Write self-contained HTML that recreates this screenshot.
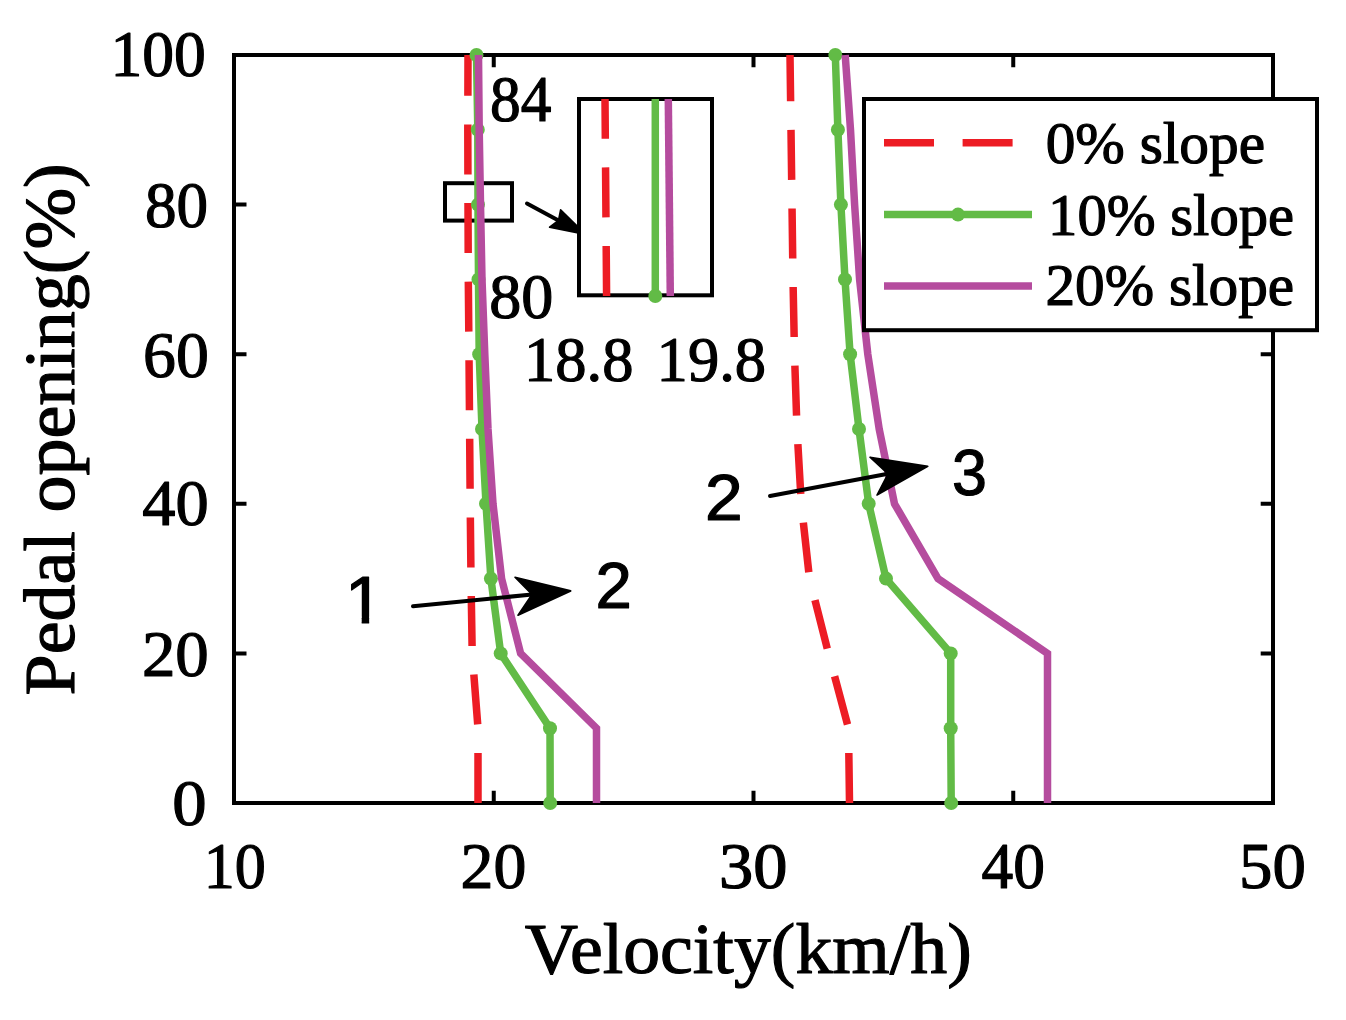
<!DOCTYPE html>
<html><head><meta charset="utf-8"><title>Pedal opening vs velocity</title>
<style>html,body{margin:0;padding:0;background:#fff;}svg{display:block;}</style>
</head><body>
<svg width="1346" height="1020" viewBox="0 0 1346 1020">
<rect x="0" y="0" width="1346" height="1020" fill="#fff"/>
<rect x="445" y="183.2" width="67" height="37.4" fill="none" stroke="#000" stroke-width="4"/>
<rect x="234" y="55" width="1039" height="748" fill="none" stroke="#000" stroke-width="4"/>
<path d="M493.75 803V790.7M493.75 55V67.3M753.50 803V790.7M753.50 55V67.3M1013.25 803V790.7M1013.25 55V67.3M234 653.40H246.5M1273 653.40H1260.7M234 503.80H246.5M1273 503.80H1260.7M234 354.20H246.5M1273 354.20H1260.7M234 204.60H246.5M1273 204.60H1260.7" stroke="#000" stroke-width="4" fill="none"/>
<g fill="none" stroke-width="7.5" stroke-linejoin="miter">
<polyline points="478.0,803.0 478.0,728.2 472.2,653.4 471.0,578.6 470.2,503.8 469.6,429.0 469.0,354.2 468.3,279.4 468.0,204.6 467.8,129.8 468.0,55.0" stroke="#ED1C24" stroke-dasharray="50 28.6"/>
<polyline points="849.5,803.0 848.5,728.2 828.5,653.4 809.5,578.6 801.3,503.8 797.0,429.0 794.5,354.2 793.0,279.4 792.0,204.6 791.0,129.8 790.0,55.0" stroke="#ED1C24" stroke-dasharray="50 28.6"/>
<polyline points="550.2,803.0 550.0,728.2 500.7,653.4 490.9,578.6 486.0,503.8 482.0,429.0 479.2,354.2 478.5,279.4 478.0,204.6 477.8,129.8 476.5,55.0" stroke="#62BB46"/>
<polyline points="951.2,803.0 950.7,728.2 950.7,653.4 886.0,578.6 868.7,503.8 859.0,429.0 850.1,354.2 845.0,279.4 840.9,204.6 837.9,129.8 835.3,55.0" stroke="#62BB46"/>
</g>
<g fill="#62BB46"><circle cx="550.2" cy="803.0" r="7"/><circle cx="550.0" cy="728.2" r="7"/><circle cx="500.7" cy="653.4" r="7"/><circle cx="490.9" cy="578.6" r="7"/><circle cx="486.0" cy="503.8" r="7"/><circle cx="482.0" cy="429.0" r="7"/><circle cx="479.2" cy="354.2" r="7"/><circle cx="478.5" cy="279.4" r="7"/><circle cx="478.0" cy="204.6" r="7"/><circle cx="477.8" cy="129.8" r="7"/><circle cx="476.5" cy="55.0" r="7"/><circle cx="951.2" cy="803.0" r="7"/><circle cx="950.7" cy="728.2" r="7"/><circle cx="950.7" cy="653.4" r="7"/><circle cx="886.0" cy="578.6" r="7"/><circle cx="868.7" cy="503.8" r="7"/><circle cx="859.0" cy="429.0" r="7"/><circle cx="850.1" cy="354.2" r="7"/><circle cx="845.0" cy="279.4" r="7"/><circle cx="840.9" cy="204.6" r="7"/><circle cx="837.9" cy="129.8" r="7"/><circle cx="835.3" cy="55.0" r="7"/></g>
<g fill="none" stroke-width="7.5">
<polyline points="596.5,803.0 596.5,728.2 520.6,653.4 501.6,578.6 493.0,503.8 488.0,429.0 484.8,354.2 482.0,279.4 480.5,204.6 479.2,129.8 478.5,55.0" stroke="#B54C9E"/>
<polyline points="1047.5,803.0 1047.5,728.2 1047.5,653.4 938.0,578.6 894.5,503.8 879.2,429.0 867.8,354.2 859.6,279.4 854.6,204.6 850.5,129.8 845.2,55.0" stroke="#B54C9E"/>
</g>
<line x1="527" y1="203.5" x2="558.5" y2="220.5" stroke="#000" stroke-width="4" stroke-linecap="round"/><polygon points="585.6,234.4 560.6,209.8 558.5,220.5 549.6,227.2" fill="#000" stroke="#000" stroke-width="1.6" stroke-linejoin="round"/>
<rect x="579" y="99" width="133" height="196.3" fill="#fff" stroke="#000" stroke-width="4"/>
<line x1="606.6" y1="296" x2="605" y2="99" stroke="#ED1C24" stroke-width="7.5" stroke-dasharray="50 28.6"/>
<line x1="655.3" y1="296" x2="655.3" y2="99" stroke="#62BB46" stroke-width="7.5"/>
<circle cx="655.3" cy="296" r="7" fill="#62BB46"/>
<line x1="670.3" y1="296" x2="668.3" y2="99" stroke="#B54C9E" stroke-width="7.5"/>
<rect x="864" y="99" width="453" height="231.2" fill="#fff" stroke="#000" stroke-width="4"/>
<line x1="884" y1="142.8" x2="1032" y2="142.8" stroke="#ED1C24" stroke-width="7.5" stroke-dasharray="50 28.6"/>
<line x1="884" y1="214.6" x2="1032" y2="214.6" stroke="#62BB46" stroke-width="7.5"/>
<circle cx="958" cy="214.6" r="7" fill="#62BB46"/>
<line x1="884" y1="285.9" x2="1032" y2="285.9" stroke="#B54C9E" stroke-width="7.5"/>
<line x1="413" y1="606.3" x2="532" y2="594.5" stroke="#000" stroke-width="4" stroke-linecap="round"/><polygon points="570.7,590.9 515,577.3 532,594.5 518,615.3" fill="#000" stroke="#000" stroke-width="1.6" stroke-linejoin="round"/>
<line x1="770" y1="496" x2="888" y2="473.8" stroke="#000" stroke-width="4" stroke-linecap="round"/><polygon points="927.8,466.4 870,457.2 888,473.8 877,495" fill="#000" stroke="#000" stroke-width="1.6" stroke-linejoin="round"/>
<defs><clipPath id="c1" clipPathUnits="userSpaceOnUse"><path d="M-10 -60H40V-6.4H23.05V5H15.95V-6.4H-10Z"/></clipPath></defs>
<g fill="#000" stroke="#000" stroke-linejoin="round">
<text transform="matrix(0.9635 0 0 0.977 110.5417 76.4787)" font-family="Liberation Serif, serif" font-size="66" stroke-width="1.2">100</text>
<text transform="matrix(0.9565 0 0 0.988 144.8871 226.865)" font-family="Liberation Serif, serif" font-size="66" stroke-width="1.2">80</text>
<text transform="matrix(0.996 0 0 0.9814 143.0591 376.5732)" font-family="Liberation Serif, serif" font-size="66" stroke-width="1.2">60</text>
<text transform="matrix(1.0071 0 0 0.9792 142.3447 525.376)" font-family="Liberation Serif, serif" font-size="66" stroke-width="1.2">40</text>
<text transform="matrix(1.0138 0 0 0.9902 141.919 675.9623)" font-family="Liberation Serif, serif" font-size="66" stroke-width="1.2">20</text>
<text transform="matrix(1.0414 0 0 0.9902 172.3172 824.7623)" font-family="Liberation Serif, serif" font-size="66" stroke-width="1.2">0</text>
<text transform="matrix(0.9413 0 0 0.9814 203.7583 888.4732)" font-family="Liberation Serif, serif" font-size="66" stroke-width="1.2">10</text>
<text transform="matrix(0.996 0 0 0.9814 460.5591 888.4732)" font-family="Liberation Serif, serif" font-size="66" stroke-width="1.2">20</text>
<text transform="matrix(1.0374 0 0 0.9814 719.0065 888.4732)" font-family="Liberation Serif, serif" font-size="66" stroke-width="1.2">30</text>
<text transform="matrix(0.9613 0 0 0.9814 981.4791 888.4732)" font-family="Liberation Serif, serif" font-size="66" stroke-width="1.2">40</text>
<text transform="matrix(1.0123 0 0 0.9814 1239.0099 888.4732)" font-family="Liberation Serif, serif" font-size="66" stroke-width="1.2">50</text>
<text transform="matrix(0.9978 0 0 0.9781 524.7506 972.8613)" font-family="Liberation Serif, serif" font-size="74" stroke-width="1.2">Velocity(km/h)</text>
<text transform="matrix(0 -1 0.981 0 74.3131 695.5)" font-family="Liberation Serif, serif" font-size="74" stroke-width="1.2">Pedal opening(%)</text>
<text transform="matrix(0.9899 0 0 0.9694 1045.6676 162.9559)" font-family="Liberation Serif, serif" font-size="60" stroke-width="1.2">0% slope</text>
<text transform="matrix(0.978 0 0 0.9874 1048.0545 234.7171)" font-family="Liberation Serif, serif" font-size="60" stroke-width="1.2">10% slope</text>
<text transform="matrix(0.9885 0 0 0.9748 1045.423 305.4842)" font-family="Liberation Serif, serif" font-size="60" stroke-width="1.2">20% slope</text>
<text transform="matrix(0.9307 0 0 0.9814 490.0386 121.4732)" font-family="Liberation Serif, serif" font-size="66" stroke-width="1.2">84</text>
<text transform="matrix(0.971 0 0 0.9727 489.1581 317.7842)" font-family="Liberation Serif, serif" font-size="66" stroke-width="1.2">80</text>
<text transform="matrix(0.9469 0 0 0.9696 524.0289 381.1457)" font-family="Liberation Serif, serif" font-size="66" stroke-width="1.2">18.8</text>
<text transform="matrix(0.9478 0 0 0.9696 656.624 381.1457)" font-family="Liberation Serif, serif" font-size="66" stroke-width="1.2">19.8</text>
<text transform="matrix(1.0493 0 0 1.0118 344.97 623.34)" font-family="Liberation Sans, sans-serif" font-size="66" stroke-width="1.2" clip-path="url(#c1)">1</text>
<text transform="matrix(0.9888 0 0 0.9916 595.4808 608.2563)" font-family="Liberation Sans, sans-serif" font-size="66" stroke-width="1.2">2</text>
<text transform="matrix(1.0272 0 0 0.9747 704.9752 520.0689)" font-family="Liberation Sans, sans-serif" font-size="66" stroke-width="1.2">2</text>
<text transform="matrix(0.9508 0 0 0.9813 951.9985 495.3734)" font-family="Liberation Sans, sans-serif" font-size="66" stroke-width="1.2">3</text>
</g>
</svg>
</body></html>
